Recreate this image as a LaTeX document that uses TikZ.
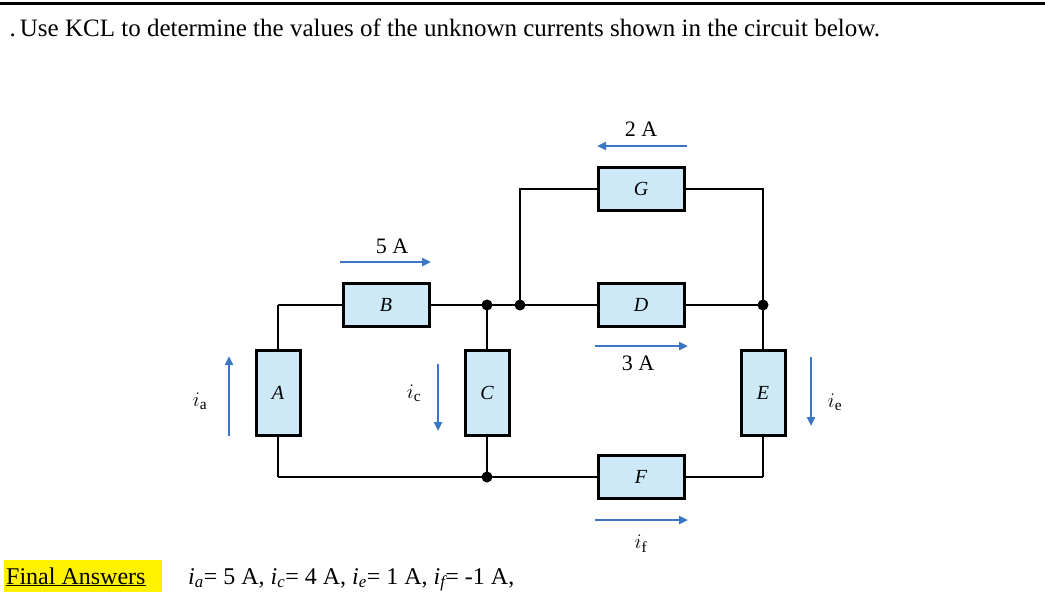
\documentclass[tikz,border=0pt]{standalone}
\usepackage{fontspec}
\setmainfont{Liberation Serif}
\usetikzlibrary{arrows.meta}
\definecolor{bx}{HTML}{CDE9F7}
\definecolor{ar}{HTML}{3A76C4}
\tikzset{
 el/.style={draw=black,line width=3pt,fill=bx,minimum width=#1,inner sep=0pt,font=\fontsize{20}{20}\selectfont\itshape},
 hbox/.style={el=86pt,minimum height=43pt},
 vbox/.style={el=44pt,minimum height=85pt},
 w/.style={line width=1.3pt},
 cur/.style={draw=ar,line width=2.4pt,-{Triangle[length=9pt,width=8pt]}},
 dot/.style={circle,fill=black,inner sep=0pt,minimum size=11pt},
 lab/.style={font=\fontsize{22}{22}\selectfont}
}
\begin{document}
\begin{tikzpicture}[x=1pt,y=-1pt]
\useasboundingbox (0,0) rectangle (1045,603);
\draw[line width=3pt] (0,3) -- (1045,3);
\node[anchor=base west,font=\fontsize{25}{25}\selectfont] (title) at (6,36) {.\,Use KCL to determine the values of the unknown currents shown in the circuit below.};
% wires
\coordinate (tl) at (278,305); \coordinate (tr) at (763,305);
\coordinate (bl) at (278,477); \coordinate (br) at (763,477);
\coordinate (gl) at (520,189); \coordinate (gr) at (763,189);
\draw[w] (tl) -- (tr); \draw[w] (bl) -- (br); \draw[w] (tl) -- (bl); \draw[w] (tr) -- (br);
\draw[w] (487,305) -- (487,477);
\draw[w] (520,305) -- (gl) -- (gr) -- (tr);
\node[dot] (j1) at (487,305) {}; \node[dot] (j2) at (520,305) {};
\node[dot] (j3) at (763,305) {}; \node[dot] (j4) at (487,477) {};
% elements
\node[vbox] (A) at (278,393) {A};
\node[hbox] (B) at (386,305) {B};
\node[vbox] (C) at (487,393) {C};
\node[hbox] (G) at (641,189) {G};
\node[hbox] (D) at (641,305) {D};
\node[hbox] (F) at (641,477) {F};
\node[vbox] (E) at (763,393) {E};
% currents
\coordinate (b1) at (340,262); \coordinate (b2) at (431,262);
\draw[cur] (b1) -- (b2); \node[lab] (l5) at (392,246) {5 A};
\coordinate (g1) at (687,146); \coordinate (g2) at (597,146);
\draw[cur] (g1) -- (g2); \node[lab] (l2) at (641,129) {2 A};
\coordinate (d1) at (595,346); \coordinate (d2) at (688,346);
\draw[cur] (d1) -- (d2); \node[lab] (l3) at (638,363) {3 A};
\coordinate (f1) at (595,520); \coordinate (f2) at (688,520);
\draw[cur] (f1) -- (f2); \node[lab] (lf) at (641,544) {$i_{\mathrm{f}}$};
\coordinate (a1) at (229,436); \coordinate (a2) at (229,356);
\draw[cur] (a1) -- (a2); \node[lab] (la) at (200,401) {$i_{\mathrm{a}}$};
\coordinate (c1) at (438,364); \coordinate (c2) at (438,431);
\draw[cur] (c1) -- (c2); \node[lab] (lc) at (414,393) {$i_{\mathrm{c}}$};
\coordinate (e1) at (811,357); \coordinate (e2) at (811,426);
\draw[cur] (e1) -- (e2); \node[lab] (le) at (835,402) {$i_{\mathrm{e}}$};
% answers
\fill[yellow] (4,560) rectangle (162,592);
\node[anchor=base west,inner sep=0pt,font=\fontsize{24}{24}\selectfont] (fa) at (6,584) {\underline{Final Answers}};
\node[anchor=base west,inner sep=0pt,font=\fontsize{24}{24}\selectfont] (ans) at (188,584) {\textit{i\textsubscript{a}}= 5 A, \textit{i\textsubscript{c}}= 4 A, \textit{i\textsubscript{e}}= 1 A, \textit{i\textsubscript{f}}= -1 A,};
\end{tikzpicture}
\end{document}
